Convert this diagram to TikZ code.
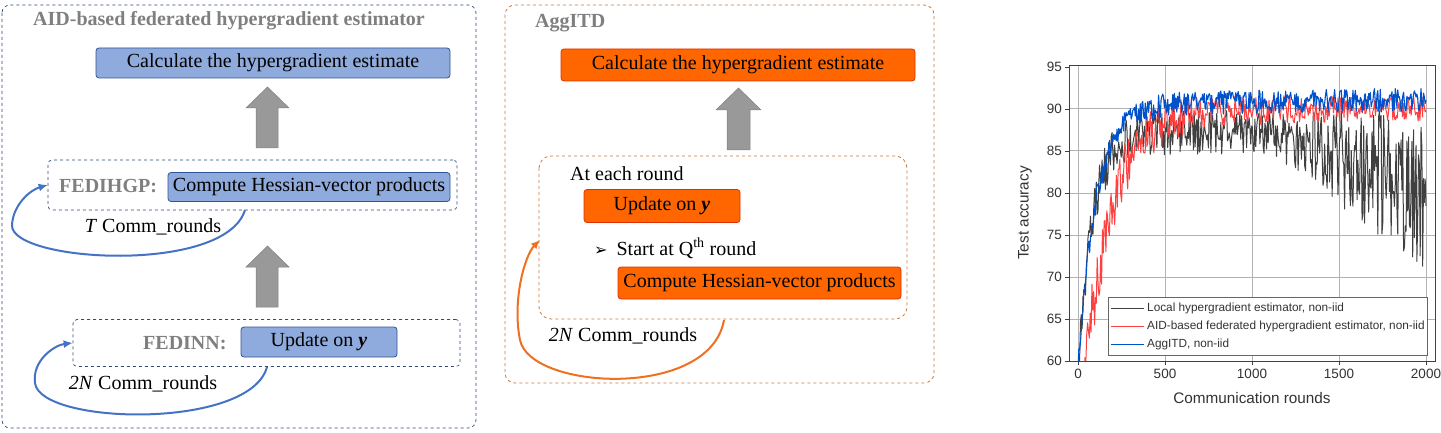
\documentclass[tikz,border=0pt]{standalone}
\usepackage{fontspec}
\usetikzlibrary{arrows.meta}
\setmainfont{Liberation Serif}
\newfontfamily\chartfont{Liberation Sans}
\newfontfamily\symfont{DejaVu Sans}
\definecolor{bfill}{HTML}{8FAADC}
\definecolor{bline}{HTML}{2F5597}
\definecolor{ofill}{HTML}{FF6600}
\definecolor{oline}{HTML}{E03000}
\definecolor{bdash}{HTML}{2E4A7A}
\definecolor{odash}{HTML}{C8783C}
\definecolor{curveb}{HTML}{4472C4}
\definecolor{curveo}{HTML}{F07020}
\definecolor{ttl}{HTML}{7F7F7F}
\begin{document}
\begin{tikzpicture}[x=1pt,y=-1pt,
  txt/.style={font=\fontsize{20}{22}\selectfont, inner sep=0pt},
  bbox/.style={draw=bline, fill=bfill, rounded corners=3pt, line width=0.8pt, font=\fontsize{20}{22}\selectfont, inner sep=0pt},
  obox/.style={draw=oline, fill=ofill, rounded corners=3pt, line width=0.8pt, font=\fontsize{20}{22}\selectfont, inner sep=0pt},
  bframe/.style={draw=bdash, dashed, rounded corners=8pt, line width=0.7pt},
  oframe/.style={draw=odash, dashed, rounded corners=10pt, line width=0.8pt},
  ttlfont/.style={text=ttl, font=\fontsize{20}{22}\selectfont\bfseries, inner sep=0pt},
  garrow/.style={fill=black!40, draw=black!50, line width=0.5pt},
  loopb/.style={draw=curveb, line width=2pt, -{Latex[length=9pt,width=8pt]}},
  loopo/.style={draw=curveo, line width=2pt, -{Latex[length=9pt,width=8pt]}},
  chtxt/.style={font=\chartfont\fontsize{13.5}{15}\selectfont, inner sep=0pt, text=black!80}
]
\useasboundingbox (0,0) rectangle (1441,433);
% ---------------- left panel
\draw[bframe] (2,5) rectangle (476,428);
\node[ttlfont, anchor=west] (t1) at (33,21) {AID-based federated hypergradient estimator};
\node[bbox, minimum width=354pt, minimum height=30pt] (c1) at (273,63) {Calculate the hypergradient estimate};
\draw[garrow] (256,148) -- (256,108) -- (246,108) -- (267.5,87) -- (289,108) -- (278,108) -- (278,148) -- cycle;
\node[draw=bdash, dashed, rounded corners=4pt, line width=0.7pt, minimum width=409pt, minimum height=50pt] (f1) at (252.5,185) {};
\node[ttlfont, anchor=west] (l1) at (59,186) {FEDIHGP:};
\node[bbox, minimum width=282pt, minimum height=29pt] (h1) at (309,187) {Compute Hessian-vector products};
\node[txt] (r1) at (153,227) {\textit{T} Comm\_rounds};
\coordinate (s1) at (245,210);
\draw[loopb] (s1) .. controls (225,275) and (10,262) .. (12,225) .. controls (13,205) and (30,190) .. (f1.west);
\draw[garrow] (256,307) -- (256,267) -- (246,267) -- (267.5,246) -- (289,267) -- (278,267) -- (278,307) -- cycle;
\node[draw=bdash, dashed, rounded corners=4pt, line width=0.7pt, minimum width=387pt, minimum height=47pt] (f2) at (266.5,343) {};
\node[ttlfont, anchor=west] (l2) at (143,343) {FEDINN:};
\node[bbox, minimum width=156pt, minimum height=30pt] (u1) at (319,342) {Update on \textbf{\textit{y}}};
\node[txt] (r2) at (143,384) {\textit{2N} Comm\_rounds};
\coordinate (s2) at (267,367);
\draw[loopb] (s2) .. controls (250,430) and (40,425) .. (35,383) .. controls (32,360) and (55,345) .. (f2.west);
% ---------------- middle panel
\draw[oframe] (505,5) rectangle (934,383);
\node[ttlfont, anchor=west] (t2) at (535,23) {AggITD};
\node[obox, minimum width=354pt, minimum height=32pt] (c2) at (738,65) {Calculate the hypergradient estimate};
\draw[garrow] (727,150) -- (727,110) -- (716,110) -- (738.5,88) -- (761,110) -- (750,110) -- (750,150) -- cycle;
\draw[oframe, rounded corners=12pt] (539,156) rectangle (907,319);
\node[txt, anchor=west] (a1) at (570,174) {At each round};
\node[obox, minimum width=156pt, minimum height=33pt] (u2) at (662,206) {Update on \textbf{\textit{y}}};
\node[txt, anchor=west] (q1) at (594,248) {{\symfont\fontsize{16}{16}\selectfont ➢}\hspace{9pt}Start at Q\textsuperscript{th} round};
\node[obox, minimum width=283pt, minimum height=32pt] (h2) at (759.5,283) {Compute Hessian-vector products};
\node[txt] (r3) at (623,336) {\textit{2N} Comm\_rounds};
\coordinate (s3) at (724,320);
\coordinate (e3) at (540,240);
\draw[loopo] (s3) .. controls (710,400) and (530,390) .. (520,340) .. controls (512,300) and (525,255) .. (e3);
% ---------------- chart
\begin{scope}
\clip (1069,66) rectangle (1435,361);
\foreach \v in {500,1000,1500,2000} \draw[black!30, line width=1pt] ({1078+0.174*\v},66) -- ({1078+0.174*\v},361);
\draw[black!30, line width=1pt] (1078,66) -- (1078,361);
\foreach \v in {65,70,75,80,85,90} \draw[black!30, line width=1pt] (1069,{361-8.4*(\v-60)}) -- (1435,{361-8.4*(\v-60)});
\pgfmathsetseed{7}
\draw[black!75, line width=1pt, line join=round] plot[domain=0:2000, samples=420] ({1078+0.174*\x}, {361-8.4*(87.2-30*exp(-\x/80)-(\x>1100)*(\x-1100)/130 + (2.6+(\x>1100)*(\x-1100)/130)*rand-60)});
\draw[red!75, line width=1pt, line join=round] plot[domain=0:2000, samples=400] ({1078+0.174*\x}, {361-8.4*(90.0-40*exp(-\x/160)+(1.4+3*exp(-\x/500))*rand-60)});
\draw[blue!60!cyan!80!black, line width=1.1pt, line join=round] plot[domain=0:2000, samples=420] ({1078+0.174*\x}, {361-8.4*(90.6-31*exp(-\x/105)+(\x/4000)+1.4*rand-60)});
\end{scope}
\draw[black!75, line width=1pt] (1069,66) rectangle (1435,361);
\foreach \v in {0,500,1000,1500,2000} {
  \draw[black!75] ({1078+0.174*\v},361) -- ({1078+0.174*\v},365);
  \node[chtxt, anchor=north] at ({1078+0.174*\v},369) {\v};}
\foreach \v in {60,65,70,75,80,85,90,95} {
  \draw[black!75] (1065,{361-8.4*(\v-60)}) -- (1069,{361-8.4*(\v-60)});
  \node[chtxt, anchor=east] at (1062,{361-8.4*(\v-60)}) {\v};}
\node[chtxt, font=\chartfont\fontsize{15.3}{17}\selectfont, rotate=90] (ylab) at (1025,213) {Test accuracy};
\node[chtxt, font=\chartfont\fontsize{15.3}{17}\selectfont] (xlab) at (1252,398) {Communication rounds};
\node[draw=black!60, fill=white, line width=0.6pt, minimum width=319pt, minimum height=58pt] (leg) at (1267.5,326) {};
\draw[black!75, line width=1pt] (1111,308) -- (1144,308);
\draw[red!75, line width=1pt] (1111,326) -- (1144,326);
\draw[blue!60!cyan!80!black, line width=1pt] (1111,344) -- (1144,344);
\begin{scope}[every node/.style={chtxt, font=\chartfont\fontsize{11.8}{13}\selectfont, anchor=west}]
\node (g1) at (1147,308) {Local hypergradient estimator, non-iid};
\node (g2) at (1147,326) {AID-based federated hypergradient estimator, non-iid};
\node (g3) at (1147,344) {AggITD, non-iid};
\end{scope}
\end{tikzpicture}
\end{document}
